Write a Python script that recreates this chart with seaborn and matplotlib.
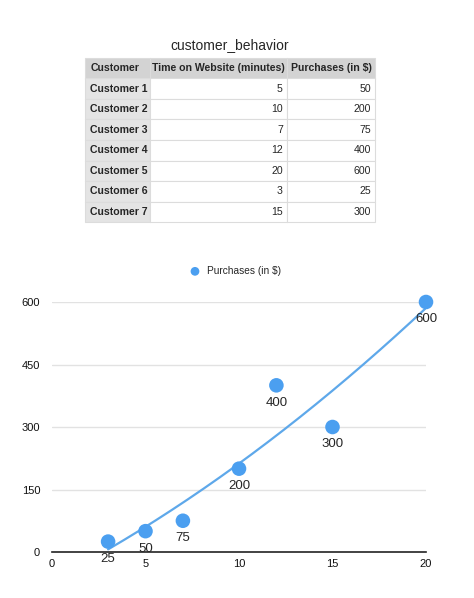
import numpy as np
import pandas as pd
import matplotlib
matplotlib.use("Agg")
import matplotlib.pyplot as plt
import seaborn as sns

customers = ["Customer 1", "Customer 2", "Customer 3", "Customer 4",
             "Customer 5", "Customer 6", "Customer 7"]
time_on_site = [5, 10, 7, 12, 20, 3, 15]
purchases = [50, 200, 75, 400, 600, 25, 300]
col_labels = ["Customer", "Time on Website (minutes)", "Purchases (in $)"]
y_ticks = [0, 150, 300, 450, 600]
x_ticks = [0, 5, 10, 15, 20]

sns.set_style("white")
plt.rcParams['font.family'] = ['Liberation Sans', 'DejaVu Sans']

df = pd.DataFrame({"Time": time_on_site, "Purchases (in $)": purchases})

fig = plt.figure(figsize=(4.74, 5.98), dpi=100)
W, H = 474, 598

# ---- Table ----
fig.text(230 / W, 1 - 45 / H, "customer_behavior", ha="center", va="center", fontsize=10)
tax = fig.add_axes([85 / W, 1 - 222 / H, 290 / W, 164 / H])
tax.axis("off")
cell_text = [[c, str(t), str(p)] for c, t, p in zip(customers, time_on_site, purchases)]
tbl = tax.table(cellText=cell_text, colLabels=col_labels, loc="center",
                bbox=[0, 0, 1, 1], colWidths=[65 / 290, 137 / 290, 88 / 290])
tbl.auto_set_font_size(False)
for (r, c), cell in tbl.get_celld().items():
    cell.set_edgecolor("#dcdcdc")
    cell.set_linewidth(0.8)
    txt = cell.get_text()
    txt.set_fontsize(7.6)
    if r == 0:
        cell.set_facecolor("#d3d3d3")
        txt.set_fontweight("bold")
        cell._loc = "left" if c == 0 else "center"
        txt.set_ha("left" if c == 0 else "center")
        cell.PAD = 0.08 if c == 0 else 0.02
    elif c == 0:
        cell.set_facecolor("#e4e4e4")
        txt.set_fontweight("bold")
        cell._loc = "left"
        txt.set_ha("left")
        cell.PAD = 0.07
    else:
        cell.set_facecolor("white")
        cell._loc = "right"
        txt.set_ha("right")
        cell.PAD = 0.03 if c == 1 else 0.045

# ---- Chart ----
ax = fig.add_axes([52 / W, 1 - 552 / H, 374 / W, 250 / H])
blue = "#4b9ff0"
coef = np.polyfit(time_on_site, purchases, 2)
xs = np.linspace(min(time_on_site), max(time_on_site), 200)
trend = pd.DataFrame({"x": xs, "y": np.polyval(coef, xs)})
sns.lineplot(data=trend, x="x", y="y", ax=ax, color="#5ea8ea", linewidth=1.6,
             zorder=2, legend=False)
sns.scatterplot(data=df, x="Time", y="Purchases (in $)", ax=ax, color=blue,
                s=110, edgecolor="none", zorder=3, clip_on=False,
                label="Purchases (in $)")
for t, p in zip(time_on_site, purchases):
    ax.annotate(str(p), (t, p), xytext=(0, -12.5), textcoords="offset points",
                ha="center", va="center", fontsize=9.5, zorder=4,
                annotation_clip=False)

ax.set_xlim(0, 20)
ax.set_ylim(0, 600)
ax.set_xticks(x_ticks)
ax.set_yticks(y_ticks)
ax.set_xticklabels([str(v) for v in x_ticks], fontsize=8)
ax.set_yticklabels([str(v) for v in y_ticks], fontsize=8)
ax.set_xlabel("")
ax.set_ylabel("")
for s in ["top", "right", "left"]:
    ax.spines[s].set_visible(False)
ax.spines["bottom"].set_color("#222222")
ax.spines["bottom"].set_linewidth(1.2)
ax.tick_params(axis="both", length=0, colors="#111111")
ax.tick_params(axis="y", pad=8.5)
ax.tick_params(axis="x", pad=5)
for v in y_ticks[1:]:
    ax.axhline(v, color="#e2e2e2", linewidth=1, zorder=0)

leg = ax.legend(loc="center", bbox_to_anchor=((233 - 52) / 374, (552 - 271) / 250),
                frameon=False, fontsize=7.3, handletextpad=0.2, markerscale=0.6)

fig.savefig("out.png", dpi=100)
